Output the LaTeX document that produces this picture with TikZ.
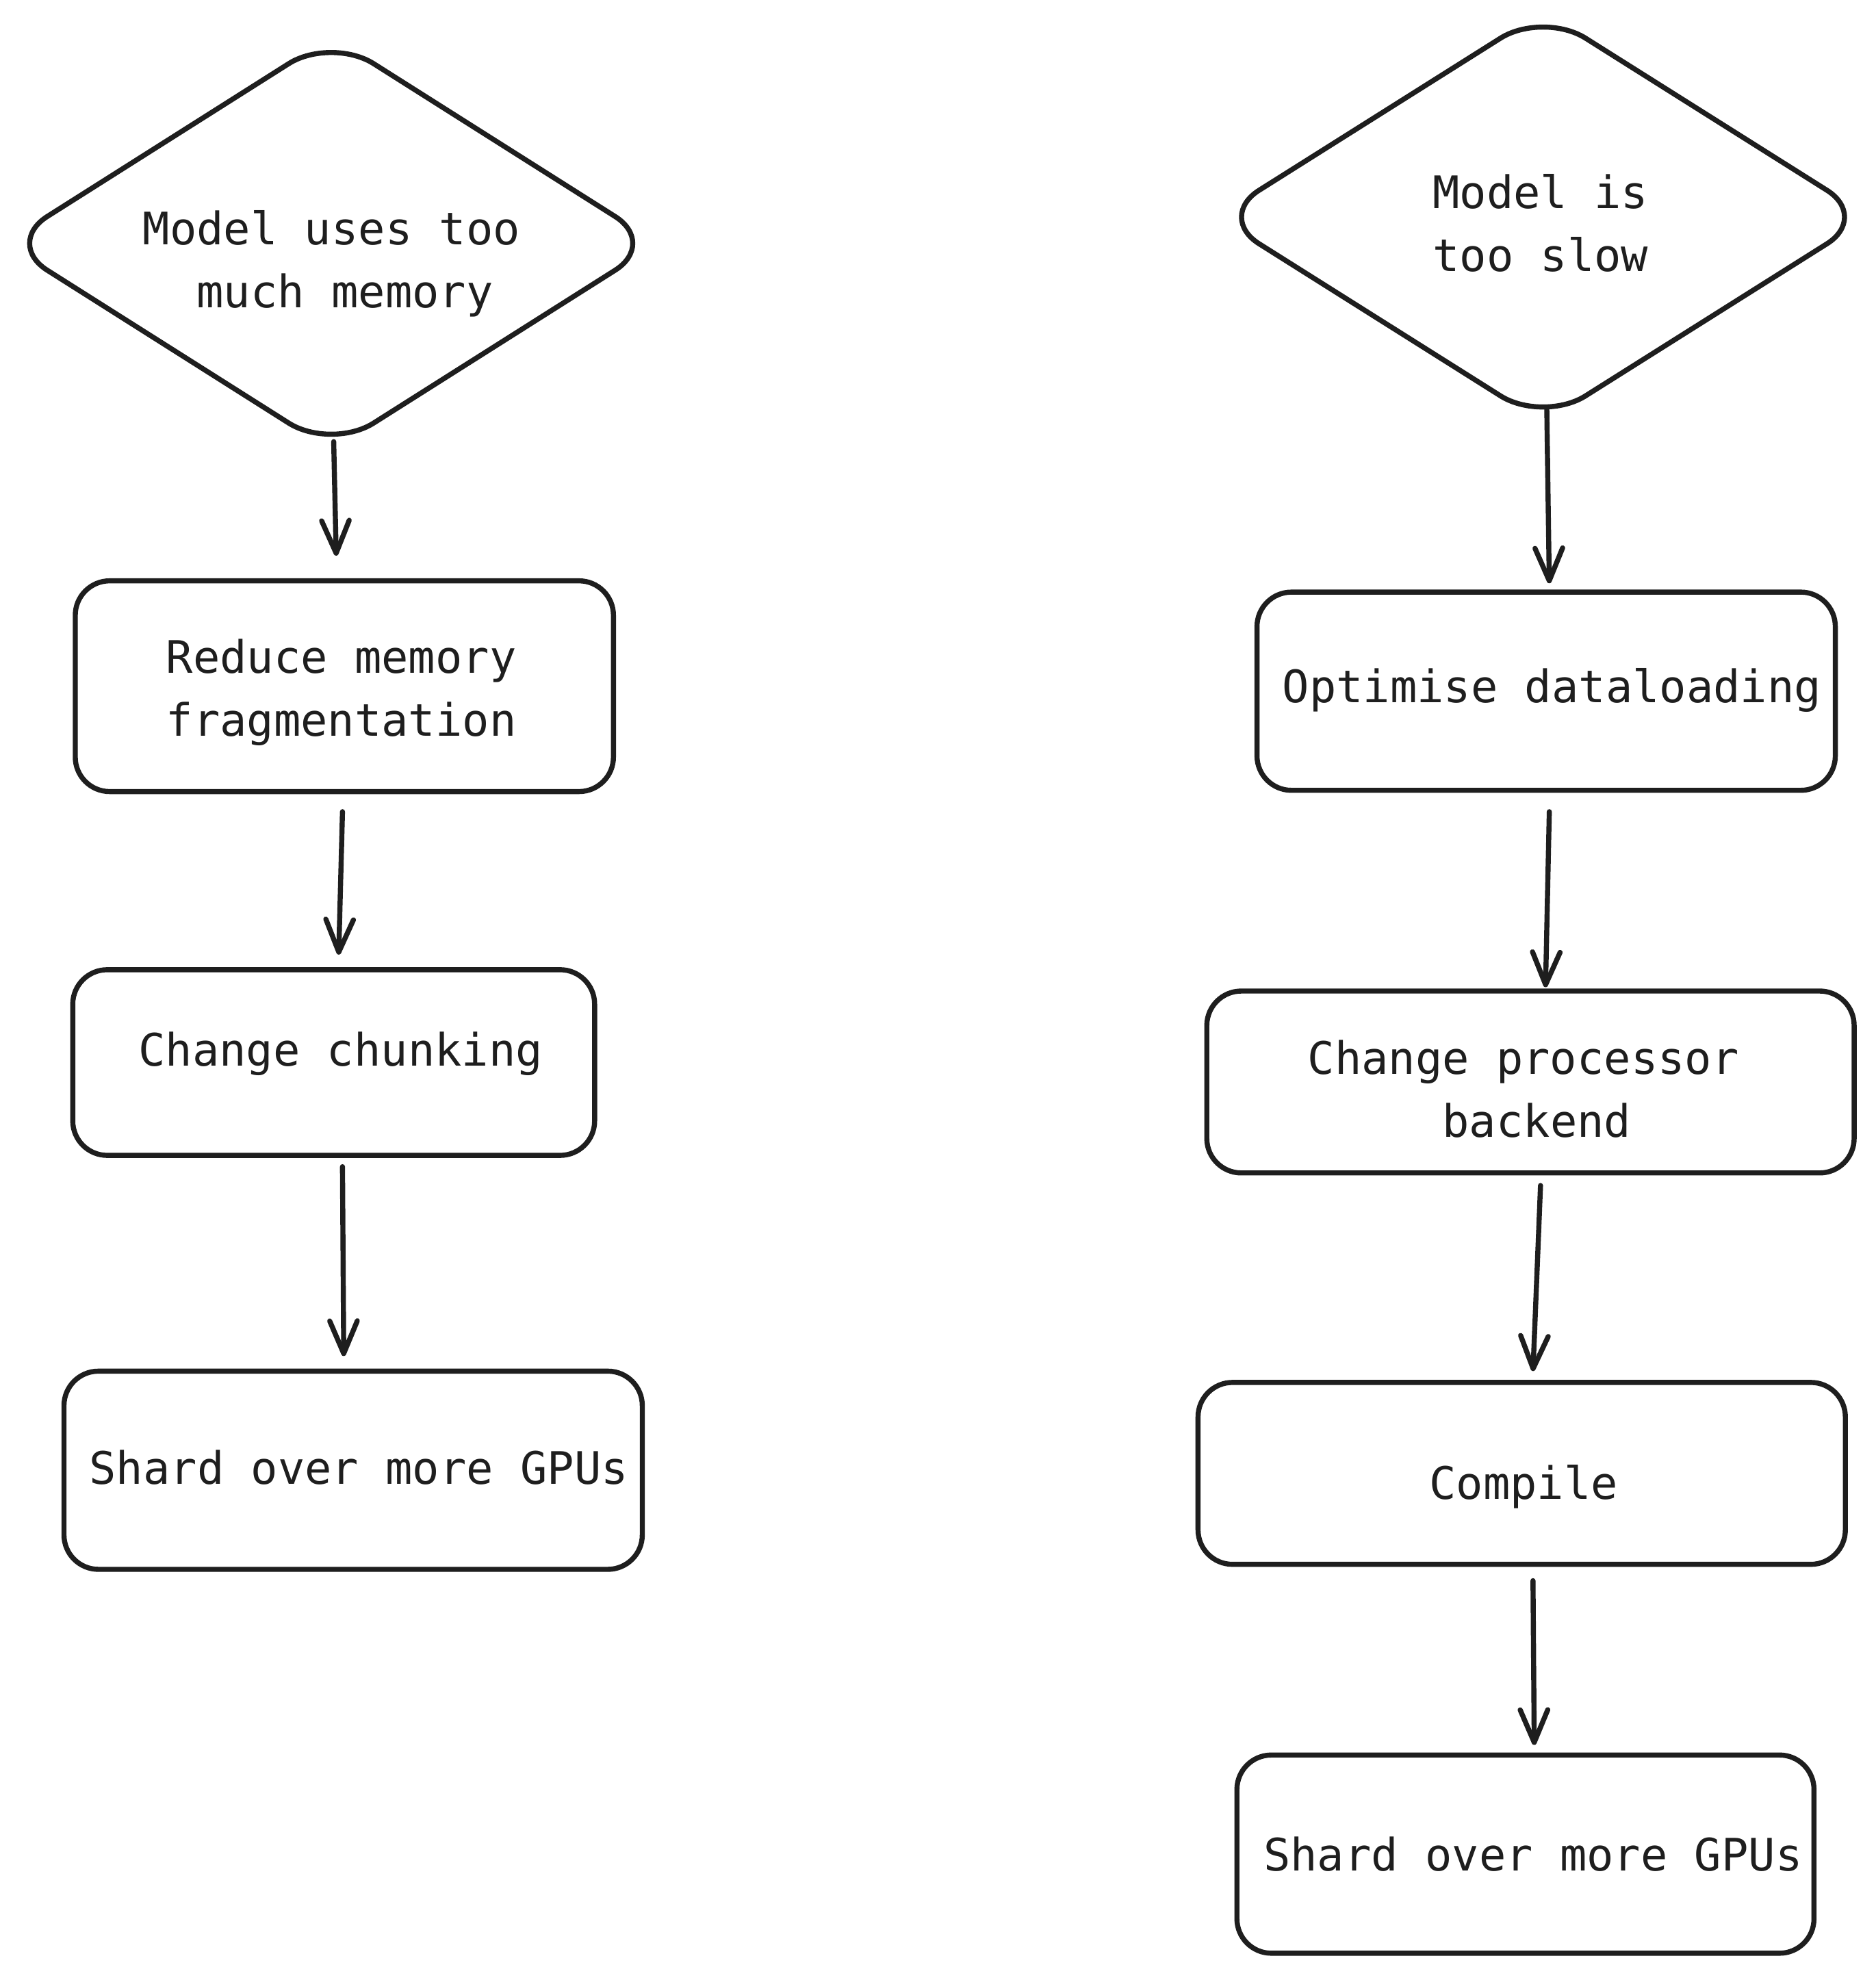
\documentclass[tikz,border=0pt]{standalone}
\usepackage{fontspec}
\setmonofont{DejaVu Sans Mono}
\usetikzlibrary{arrows.meta,shapes.geometric,calc}
\definecolor{ink}{HTML}{1E1E1E}
\begin{document}
\begin{tikzpicture}[x=0.2mm,y=-0.2mm,
  shapebox/.style={draw=ink,line width=2.3pt,rounded corners=5.5mm,rectangle,inner sep=0pt},
  decision/.style={draw=ink,line width=2.3pt,diamond,rounded corners=8mm,inner sep=0pt},
  lbl/.style={font=\ttfamily\fontsize{20.3}{28.5}\selectfont,text=ink,align=center,inner sep=0pt},
  arr/.style={draw=ink,line width=2.3pt,line cap=round,-{Straight Barb[length=5.2mm,width=4.4mm,round]}}]
\useasboundingbox[fill=white] (0,0) rectangle (1495,1568);

% left column
\node[decision,minimum width=104.4mm,minimum height=66.2mm] (dl) at (264,194) {};
\node[lbl] (dlt) at (275,210) {Model uses too\hphantom{x}\\much memory};
\node[shapebox,minimum width=85.8mm,minimum height=33.6mm] (l1) at (274.5,547) {};
\node[lbl] (l1t) at (272,552) {Reduce memory\\fragmentation};
\node[shapebox,minimum width=83.2mm,minimum height=29.6mm] (l2) at (266,847) {};
\node[lbl] (l2t) at (271.5,840) {Change chunking};
\node[shapebox,minimum width=92.2mm,minimum height=31.6mm] (l3) at (281.5,1172) {};
\node[lbl] (l3t) at (286,1170) {Shard over more GPUs};

% right column
\node[decision,minimum width=104.4mm,minimum height=65.9mm] (dr) at (1230,173) {};
\node[lbl] (drt) at (1228,178) {Model is\\too slow};
\node[shapebox,minimum width=92.2mm,minimum height=31.6mm] (r1) at (1232.5,551) {};
\node[lbl] (r1t) at (1237,550) {Optimise dataloading};
\node[shapebox,minimum width=103.2mm,minimum height=29mm] (r2) at (1220,862.5) {};
\node[lbl] (r2t) at (1225,868) {Change processor\hphantom{x}\\backend};
\node[shapebox,minimum width=103.2mm,minimum height=29mm] (r3) at (1213,1174.5) {};
\node[lbl] (r3t) at (1214.5,1185) {Compile};
\node[shapebox,minimum width=92mm,minimum height=31.6mm] (r4) at (1216,1478) {};
\node[lbl] (r4t) at (1222,1478) {Shard over more GPUs};

% connectors
\draw[arr] ($(dl.south)+(2,-9.5)$) -- ($(l1.north)+(-6.5,-18)$);
\draw[arr] ($(l1.south)+(-1.5,14)$) -- ($(l2.north)+(4,-10)$);
\draw[arr] ($(l2.south)+(7,7)$) -- ($(l3.north)+(-7.5,-10)$);

\draw[arr] ($(dr.south)+(3,-14)$) -- ($(r1.north)+(2.5,-5)$);
\draw[arr] ($(r1.south)+(2.5,15)$) -- ($(r2.north)+(12,-1)$);
\draw[arr] ($(r2.south)+(8,8)$) -- ($(r3.north)+(9,-7)$);
\draw[arr] ($(r3.south)+(9,11)$) -- ($(r4.north)+(7,-6)$);
\end{tikzpicture}
\end{document}
